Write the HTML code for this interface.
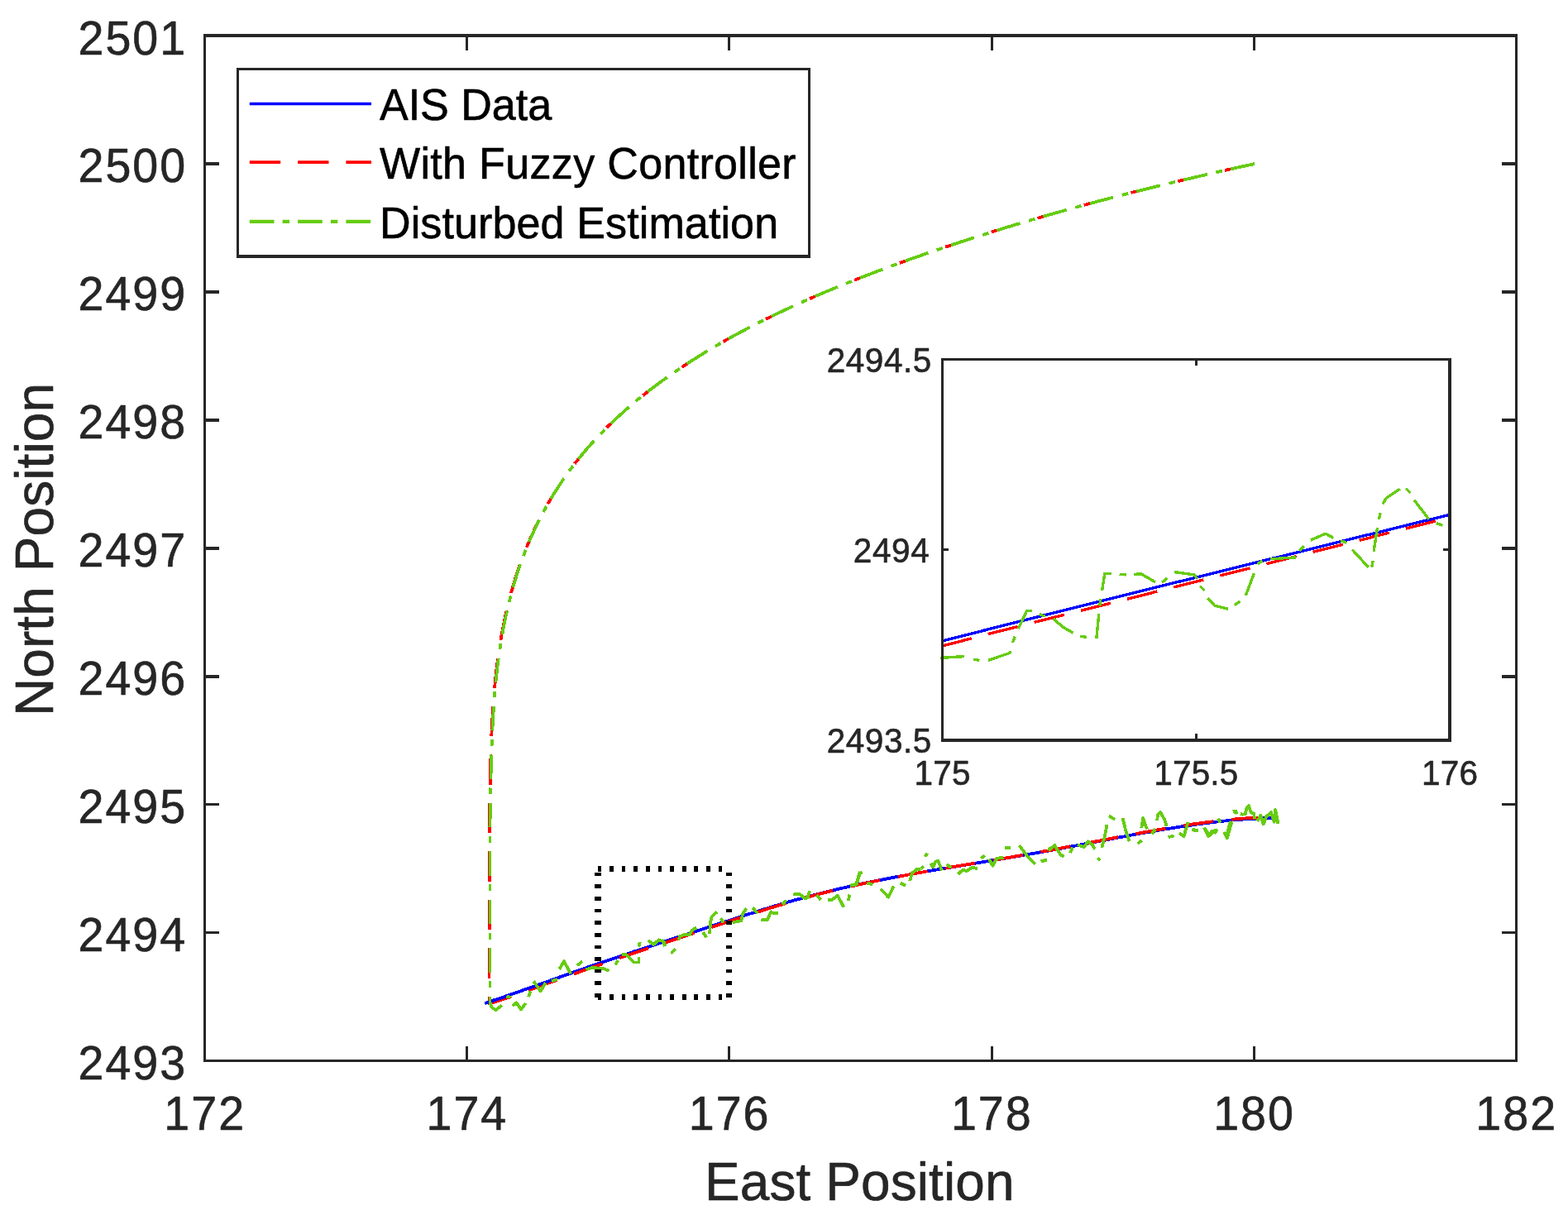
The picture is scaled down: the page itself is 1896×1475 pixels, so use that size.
<!DOCTYPE html>
<html lang="en">
<head>
<meta charset="utf-8">
<title>North Position vs East Position</title>
<style>
html,body{margin:0;padding:0;background:#fff;}
body{width:1896px;height:1475px;overflow:hidden;}
svg{display:block;}
svg text{font-family:"Liberation Sans",sans-serif;}
.c{fill:none;stroke-linejoin:round;stroke-linecap:butt;}
</style>
</head>
<body>
<svg width="1896" height="1475" viewBox="0 0 1896 1475">
<rect x="0" y="0" width="1896" height="1475" fill="#fff"/>
<g id="main-curves" shape-rendering="crispEdges">
<polyline class="c" stroke="#0000ff" stroke-width="3.8" points="586.3,1212.9 592.1,1211.0 598.0,1209.0 603.9,1207.1 609.8,1205.1 615.6,1203.1 621.5,1201.0 627.3,1199.0 633.2,1196.9 639.0,1194.9 644.9,1192.8 650.7,1190.7 656.5,1188.6 662.4,1186.6 668.2,1184.5 674.0,1182.4 679.9,1180.3 685.7,1178.2 691.5,1176.2 697.4,1174.1 703.2,1172.1 709.1,1170.0 714.9,1168.0 720.8,1165.9 726.6,1163.9 732.5,1161.9 738.4,1159.9 744.2,1158.0 750.1,1156.0 756.0,1154.0 761.9,1152.1 767.7,1150.1 773.6,1148.2 779.5,1146.3 785.4,1144.3 791.3,1142.4 797.2,1140.5 803.1,1138.5 808.9,1136.6 814.8,1134.7 820.7,1132.7 826.6,1130.8 832.5,1128.9 838.4,1127.0 844.3,1125.0 850.2,1123.1 856.1,1121.2 861.9,1119.3 867.8,1117.3 873.7,1115.4 879.6,1113.5 885.5,1111.6 891.4,1109.7 897.3,1107.8 903.2,1105.9 909.1,1104.0 915.0,1102.1 920.9,1100.3 926.9,1098.4 932.8,1096.6 938.7,1094.8 944.6,1093.1 950.6,1091.3 956.5,1089.6 962.5,1087.9 968.5,1086.3 974.4,1084.7 980.4,1083.1 986.4,1081.5 992.4,1080.0 998.4,1078.5 1004.5,1077.1 1010.5,1075.6 1016.5,1074.2 1022.6,1072.8 1028.6,1071.5 1034.7,1070.2 1040.7,1068.8 1046.8,1067.6 1052.8,1066.3 1058.9,1065.1 1065.0,1063.9 1071.0,1062.7 1077.1,1061.5 1083.2,1060.3 1089.3,1059.2 1095.4,1058.1 1101.5,1057.0 1107.6,1055.9 1113.7,1054.8 1119.8,1053.7 1125.9,1052.6 1132.0,1051.6 1138.1,1050.5 1144.2,1049.5 1150.3,1048.5 1156.4,1047.5 1162.6,1046.4 1168.7,1045.4 1174.8,1044.4 1180.9,1043.4 1187.0,1042.4 1193.1,1041.4 1199.2,1040.3 1205.4,1039.3 1211.5,1038.3 1217.6,1037.3 1223.7,1036.3 1229.8,1035.2 1235.9,1034.2 1242.0,1033.1 1248.1,1032.1 1254.2,1031.0 1260.3,1029.9 1266.4,1028.8 1272.5,1027.7 1278.6,1026.6 1284.7,1025.4 1290.8,1024.3 1296.9,1023.1 1303.0,1022.0 1309.1,1020.8 1315.2,1019.7 1321.2,1018.5 1327.3,1017.3 1333.4,1016.2 1339.5,1015.0 1345.6,1013.9 1351.7,1012.7 1357.8,1011.6 1363.9,1010.4 1369.9,1009.3 1376.0,1008.2 1382.1,1007.1 1388.2,1006.0 1394.3,1005.0 1400.4,1003.9 1406.5,1002.9 1412.7,1001.9 1418.8,1000.9 1424.9,999.9 1431.0,999.0 1437.1,998.1 1443.3,997.2 1449.4,996.3 1455.6,995.5 1461.7,994.7 1467.8,994.0 1474.0,993.3 1480.2,992.6 1486.3,992.0 1492.5,991.4 1498.7,990.9 1504.8,990.5 1511.0,990.1 1517.2,989.7 1523.4,989.4 1529.6,989.2 1535.8,989.0 1542.0,988.9"/>
<polyline class="c" stroke="#ff0000" stroke-width="3.8" stroke-dasharray="36.6 21.87" points="1516.9,198.1 1512.4,199.1 1507.9,200.1 1503.4,201.0 1499.0,202.0 1494.5,203.0 1490.0,204.0 1485.5,205.0 1481.0,206.0 1476.5,207.0 1472.1,208.0 1467.6,209.1 1463.1,210.1 1458.6,211.1 1454.1,212.1 1449.7,213.2 1445.2,214.2 1440.7,215.3 1436.2,216.3 1431.7,217.4 1427.3,218.4 1422.8,219.5 1418.3,220.6 1413.9,221.6 1409.4,222.7 1404.9,223.8 1400.5,224.9 1396.0,226.0 1391.5,227.1 1387.1,228.2 1382.6,229.3 1378.2,230.4 1373.7,231.5 1369.2,232.6 1364.8,233.8 1360.3,234.9 1355.9,236.1 1351.4,237.2 1347.0,238.4 1342.5,239.5 1338.1,240.7 1333.7,241.8 1329.2,243.0 1324.8,244.2 1320.3,245.4 1315.9,246.6 1311.5,247.8 1307.0,249.0 1302.6,250.2 1298.2,251.4 1293.7,252.6 1289.3,253.9 1284.9,255.1 1280.5,256.3 1276.0,257.6 1271.6,258.9 1267.2,260.1 1262.8,261.4 1258.4,262.7 1254.0,263.9 1249.6,265.2 1245.1,266.5 1240.7,267.8 1236.3,269.1 1231.9,270.4 1227.5,271.8 1223.1,273.1 1218.8,274.4 1214.4,275.8 1210.0,277.1 1205.6,278.5 1201.2,279.8 1196.8,281.2 1192.4,282.6 1188.1,284.0 1183.7,285.4 1179.3,286.8 1174.9,288.2 1170.6,289.6 1166.2,291.0 1161.8,292.4 1157.5,293.9 1153.1,295.3 1148.8,296.8 1144.4,298.2 1140.1,299.7 1135.7,301.2 1131.4,302.7 1127.0,304.2 1122.7,305.7 1118.3,307.2 1114.0,308.7 1109.7,310.2 1105.4,311.7 1101.0,313.3 1096.7,314.8 1092.4,316.4 1088.1,317.9 1083.8,319.5 1079.4,321.1 1075.1,322.7 1070.8,324.3 1066.5,325.9 1062.2,327.5 1057.9,329.1 1053.6,330.8 1049.3,332.4 1045.1,334.1 1040.8,335.7 1036.5,337.4 1032.2,339.1 1028.0,340.8 1023.7,342.5 1019.4,344.2 1015.2,345.9 1010.9,347.7 1006.7,349.4 1002.4,351.2 998.2,352.9 994.0,354.7 989.7,356.5 985.5,358.3 981.3,360.2 977.1,362.0 972.9,363.9 968.7,365.7 964.5,367.6 960.3,369.5 956.2,371.4 952.0,373.4 947.8,375.3 943.7,377.3 939.5,379.2 935.4,381.2 931.3,383.3 927.1,385.3 923.0,387.3 918.9,389.4 914.8,391.5 910.7,393.6 906.6,395.7 902.6,397.8 898.5,400.0 894.4,402.1 890.4,404.3 886.4,406.5 882.3,408.8 878.3,411.0 874.3,413.3 870.3,415.6 866.3,417.9 862.4,420.2 858.4,422.6 854.4,424.9 850.5,427.3 846.6,429.8 842.6,432.2 838.7,434.7 834.8,437.2 830.9,439.7 827.1,442.2 823.2,444.8 819.4,447.3 815.6,449.9 811.8,452.6 808.0,455.2 804.2,457.9 800.5,460.6 796.7,463.3 793.0,466.1 789.3,468.9 785.7,471.7 782.0,474.5 778.4,477.4 774.8,480.2 771.2,483.1 767.7,486.1 764.2,489.0 760.7,492.0 757.2,495.0 753.8,498.1 750.4,501.2 747.0,504.3 743.6,507.4 740.3,510.5 737.0,513.7 733.7,516.9 730.5,520.2 727.3,523.4 724.1,526.7 721.0,530.1 717.9,533.4 714.8,536.8 711.8,540.2 708.8,543.7 705.8,547.2 702.9,550.7 700.0,554.2 697.2,557.8 694.4,561.4 691.6,565.0 688.9,568.7 686.2,572.4 683.6,576.1 680.9,579.9 678.4,583.7 675.9,587.5 673.4,591.3 670.9,595.2 668.5,599.1 666.2,603.0 663.8,606.9 661.5,610.9 659.3,614.9 657.1,618.9 654.9,622.9 652.8,627.0 650.7,631.1 648.7,635.2 646.7,639.3 644.7,643.5 642.8,647.7 640.9,651.8 639.1,656.1 637.3,660.3 635.6,664.5 633.9,668.8 632.3,673.1 630.7,677.4 629.1,681.7 627.6,686.0 626.1,690.4 624.7,694.8 623.3,699.1 621.9,703.5 620.6,707.9 619.3,712.4 618.1,716.8 616.9,721.2 615.7,725.7 614.6,730.2 613.5,734.6 612.4,739.1 611.4,743.6 610.4,748.1 609.5,752.6 608.5,757.2 607.7,761.7 606.8,766.2 606.0,770.8 605.2,775.3 604.5,779.9 603.8,784.4 603.1,789.0 602.4,793.6 601.8,798.1 601.2,802.7 600.7,807.3 600.1,811.9 599.6,816.4 599.1,821.0 598.7,825.6 598.2,830.2 597.8,834.8 597.4,839.4 597.1,844.0 596.7,848.6 596.4,853.2 596.1,857.8 595.8,862.4 595.5,867.0 595.2,871.6 595.0,876.2 594.8,880.8 594.5,885.4 594.3,890.0 594.2,894.6 594.0,899.3 593.8,903.9 593.7,908.4 593.5,913.0 593.4,917.6 593.3,922.2 593.1,926.8 593.0,931.4 592.9,936.0 592.8,940.6 592.7,945.1 592.6,949.7 592.5,954.3 592.5,958.8 592.4,963.4 592.3,967.9 592.2,972.5 592.1,977.0 592.0,981.6 592.0,986.1 591.9,990.6 591.8,995.1 591.7,999.6 591.7,1060.0 591.5,1213.0 598.0,1211.5 603.9,1209.5 609.8,1207.5 615.6,1205.5 621.5,1203.4 627.3,1201.4 633.2,1199.3 639.0,1197.2 644.9,1195.1 650.7,1193.0 656.5,1190.9 662.4,1188.8 668.2,1186.7 674.0,1184.6 679.9,1182.6 685.7,1180.5 691.5,1178.4 697.4,1176.3 703.2,1174.2 709.1,1172.1 714.9,1170.1 720.8,1168.0 726.6,1166.0 732.5,1164.0 738.4,1161.9 744.2,1159.9 750.1,1157.9 756.0,1155.9 761.9,1153.9 767.7,1152.0 773.6,1150.0 779.5,1148.0 785.4,1146.0 791.3,1144.1 797.2,1142.1 803.1,1140.1 808.9,1138.2 814.8,1136.2 820.7,1134.2 826.6,1132.3 832.5,1130.3 838.4,1128.3 844.3,1126.4 850.2,1124.4 856.1,1122.4 861.9,1120.5 867.8,1118.5 873.7,1116.6 879.6,1114.6 885.5,1112.7 891.4,1110.7 897.3,1108.8 903.2,1106.8 909.1,1104.9 915.0,1103.0 920.9,1101.1 926.9,1099.3 932.8,1097.4 938.7,1095.6 944.6,1093.8 950.6,1092.0 956.5,1090.2 962.5,1088.5 968.5,1086.8 974.4,1085.2 980.4,1083.6 986.4,1082.0 992.4,1080.4 998.4,1078.9 1004.5,1077.4 1010.5,1075.9 1016.5,1074.5 1022.6,1073.1 1028.6,1071.7 1034.7,1070.3 1040.7,1069.0 1046.8,1067.7 1052.8,1066.5 1058.9,1065.2 1065.0,1064.0 1071.0,1062.8 1077.1,1061.6 1083.2,1060.4 1089.3,1059.3 1095.4,1058.1 1101.5,1057.0 1107.6,1055.9 1113.7,1054.8 1119.8,1053.7 1125.9,1052.6 1132.0,1051.6 1138.1,1050.5 1144.2,1049.5 1150.3,1048.4 1156.4,1047.4 1162.6,1046.4 1168.7,1045.3 1174.8,1044.3 1180.9,1043.3 1187.0,1042.2 1193.1,1041.2 1199.2,1040.2 1205.4,1039.2 1211.5,1038.1 1217.6,1037.1 1223.7,1036.1 1229.8,1035.0 1235.9,1033.9 1242.0,1032.9 1248.1,1031.8 1254.2,1030.7 1260.3,1029.6 1266.4,1028.5 1272.5,1027.4 1278.6,1026.2 1284.7,1025.1 1290.8,1023.9 1296.9,1022.8 1303.0,1021.6 1309.1,1020.4 1315.2,1019.2 1321.2,1018.0 1327.3,1016.9 1333.4,1015.7 1339.5,1014.5 1345.6,1013.3 1351.7,1012.2 1357.8,1011.0 1363.9,1009.8 1369.9,1008.7 1376.0,1007.6 1382.1,1006.5 1388.2,1005.4 1394.3,1004.3 1400.4,1003.2 1406.5,1002.2 1412.7,1001.1 1418.8,1000.1 1424.9,999.1 1431.0,998.2 1437.1,997.2 1443.3,996.3 1449.4,995.5 1455.6,994.6 1461.7,993.8 1467.8,993.1 1474.0,992.4 1480.2,991.7 1486.3,991.0 1492.5,990.5 1498.7,989.9 1504.8,989.5 1511.0,989.1 1517.2,988.7 1523.4,988.4"/>
<polyline class="c" stroke="#0000ff" stroke-width="3.8" points="586.3,1212.9 592.1,1211.0 598.0,1209.0 603.9,1207.1 609.8,1205.1 615.6,1203.1 621.5,1201.0 627.3,1199.0 633.2,1196.9 639.0,1194.9 644.9,1192.8 650.7,1190.7 656.5,1188.6 662.4,1186.6 668.2,1184.5 674.0,1182.4 679.9,1180.3 685.7,1178.2"/>
<polyline class="c" stroke="#66cc11" stroke-width="3.8" stroke-dasharray="29.4 10.6 7.6 10.87" points="1516.9,198.1 1512.4,199.1 1507.9,200.1 1503.4,201.0 1499.0,202.0 1494.5,203.0 1490.0,204.0 1485.5,205.0 1481.0,206.0 1476.5,207.0 1472.1,208.0 1467.6,209.1 1463.1,210.1 1458.6,211.1 1454.1,212.1 1449.7,213.2 1445.2,214.2 1440.7,215.3 1436.2,216.3 1431.7,217.4 1427.3,218.4 1422.8,219.5 1418.3,220.6 1413.9,221.6 1409.4,222.7 1404.9,223.8 1400.5,224.9 1396.0,226.0 1391.5,227.1 1387.1,228.2 1382.6,229.3 1378.2,230.4 1373.7,231.5 1369.2,232.6 1364.8,233.8 1360.3,234.9 1355.9,236.1 1351.4,237.2 1347.0,238.4 1342.5,239.5 1338.1,240.7 1333.7,241.8 1329.2,243.0 1324.8,244.2 1320.3,245.4 1315.9,246.6 1311.5,247.8 1307.0,249.0 1302.6,250.2 1298.2,251.4 1293.7,252.6 1289.3,253.9 1284.9,255.1 1280.5,256.3 1276.0,257.6 1271.6,258.9 1267.2,260.1 1262.8,261.4 1258.4,262.7 1254.0,263.9 1249.6,265.2 1245.1,266.5 1240.7,267.8 1236.3,269.1 1231.9,270.4 1227.5,271.8 1223.1,273.1 1218.8,274.4 1214.4,275.8 1210.0,277.1 1205.6,278.5 1201.2,279.8 1196.8,281.2 1192.4,282.6 1188.1,284.0 1183.7,285.4 1179.3,286.8 1174.9,288.2 1170.6,289.6 1166.2,291.0 1161.8,292.4 1157.5,293.9 1153.1,295.3 1148.8,296.8 1144.4,298.2 1140.1,299.7 1135.7,301.2 1131.4,302.7 1127.0,304.2 1122.7,305.7 1118.3,307.2 1114.0,308.7 1109.7,310.2 1105.4,311.7 1101.0,313.3 1096.7,314.8 1092.4,316.4 1088.1,317.9 1083.8,319.5 1079.4,321.1 1075.1,322.7 1070.8,324.3 1066.5,325.9 1062.2,327.5 1057.9,329.1 1053.6,330.8 1049.3,332.4 1045.1,334.1 1040.8,335.7 1036.5,337.4 1032.2,339.1 1028.0,340.8 1023.7,342.5 1019.4,344.2 1015.2,345.9 1010.9,347.7 1006.7,349.4 1002.4,351.2 998.2,352.9 994.0,354.7 989.7,356.5 985.5,358.3 981.3,360.2 977.1,362.0 972.9,363.9 968.7,365.7 964.5,367.6 960.3,369.5 956.2,371.4 952.0,373.4 947.8,375.3 943.7,377.3 939.5,379.2 935.4,381.2 931.3,383.3 927.1,385.3 923.0,387.3 918.9,389.4 914.8,391.5 910.7,393.6 906.6,395.7 902.6,397.8 898.5,400.0 894.4,402.1 890.4,404.3 886.4,406.5 882.3,408.8 878.3,411.0 874.3,413.3 870.3,415.6 866.3,417.9 862.4,420.2 858.4,422.6 854.4,424.9 850.5,427.3 846.6,429.8 842.6,432.2 838.7,434.7 834.8,437.2 830.9,439.7 827.1,442.2 823.2,444.8 819.4,447.3 815.6,449.9 811.8,452.6 808.0,455.2 804.2,457.9 800.5,460.6 796.7,463.3 793.0,466.1 789.3,468.9 785.7,471.7 782.0,474.5 778.4,477.4 774.8,480.2 771.2,483.1 767.7,486.1 764.2,489.0 760.7,492.0 757.2,495.0 753.8,498.1 750.4,501.2 747.0,504.3 743.6,507.4 740.3,510.5 737.0,513.7 733.7,516.9 730.5,520.2 727.3,523.4 724.1,526.7 721.0,530.1 717.9,533.4 714.8,536.8 711.8,540.2 708.8,543.7 705.8,547.2 702.9,550.7 700.0,554.2 697.2,557.8 694.4,561.4 691.6,565.0 688.9,568.7 686.2,572.4 683.6,576.1 680.9,579.9 678.4,583.7 675.9,587.5 673.4,591.3 670.9,595.2 668.5,599.1 666.2,603.0 663.8,606.9 661.6,610.9 659.3,614.9 657.1,618.9 655.0,622.9 652.9,627.0 650.8,631.1 648.8,635.2 646.8,639.3 644.9,643.5 643.0,647.7 641.1,651.8 639.3,656.1 637.6,660.3 635.9,664.5 634.2,668.8 632.6,673.1 631.0,677.4 629.4,681.7 627.9,686.0 626.5,690.4 625.0,694.8 623.7,699.1 622.3,703.5 621.0,707.9 619.7,712.4 618.5,716.8 617.3,721.2 616.2,725.7 615.1,730.2 614.0,734.6 613.0,739.1 612.0,743.6 611.0,748.1 610.1,752.6 609.2,757.2 608.3,761.7 607.5,766.2 606.7,770.8 605.9,775.3 605.2,779.9 604.5,784.4 603.8,789.0 603.1,793.6 602.5,798.1 601.9,802.7 601.4,807.3 600.8,811.9 600.3,816.4 599.8,821.0 599.4,825.6 598.9,830.2 598.5,834.8 598.1,839.4 597.8,844.0 597.4,848.6 597.1,853.2 596.8,857.8 596.5,862.4 596.2,867.0 595.9,871.6 595.7,876.2 595.5,880.8 595.2,885.4 595.0,890.0 594.9,894.6 594.7,899.3 594.5,903.9 594.4,908.4 594.2,913.0 594.1,917.6 594.0,922.2 593.8,926.8 593.7,931.4 593.6,936.0 593.5,940.6 593.4,945.1 593.3,949.7 593.2,954.3 593.2,958.8 593.1,963.4 593.0,967.9 592.9,972.5 592.8,977.0 592.7,981.6 592.7,986.1 592.6,990.6 592.5,995.1 592.4,999.6 592.4,1060.0 592.4,1204.0"/>
<path class="c" stroke="#66cc11" stroke-width="3.8" d="M592.4,1204.7L592.4,1211.6L594.7,1218.0L599.7,1221.1L606.7,1215.4M612.4,1204.7L617.5,1205.9M620.0,1216.1L624.4,1212.3L630.1,1220.5L635.8,1212.9M639.0,1205.3L641.5,1198.4M645.3,1186.3L653.5,1198.4L659.9,1188.2M666.8,1186.3L673.8,1183.8M676.3,1171.8L682.0,1162.3L690.3,1177.5M697.8,1167.3L704.2,1162.3M708.6,1172.4L715.6,1169.9L729.5,1171.1L736.5,1173.7M744.1,1166.7L747.2,1161.0M751.6,1154.7L756.1,1153.4L766.2,1163.5L772.5,1163.5L772.5,1156.6M772.5,1144.6L773.8,1138.9M783.9,1137.0L790.3,1142.0L796.6,1136.3L801.6,1138.2L804.2,1143.9M800.0,1136.6L803.2,1139.1L804.4,1144.2M811.4,1152.4L817.1,1147.3M820.3,1136.6L822.2,1132.2L826.6,1130.3L833.5,1130.3L836.7,1124.6L842.4,1121.4M850.0,1127.1L854.4,1133.4M858.2,1129.0L858.9,1115.1L860.8,1108.1L867.1,1102.4M871.5,1110.0L874.7,1115.7M886.1,1115.1L896.2,1113.2L898.1,1104.9L902.5,1098.0M910.1,1097.3L915.8,1104.3M920.3,1112.5L927.8,1111.9L932.3,1102.4L935.4,1104.3L941.1,1104.3M946.2,1093.5L950.6,1088.5M958.9,1081.5L967.1,1080.9L973.4,1086.6L976.6,1085.3L979.1,1077.1M987.3,1082.2L992.4,1087.8M1000.6,1087.8L1006.3,1087.8L1012.7,1082.8L1020.3,1096.7M1025.9,1089.1L1027.2,1081.5M1027.8,1070.8L1035.4,1068.9L1039.9,1053.7M1030.0,1070.1L1035.7,1069.5L1039.5,1056.2L1042.7,1054.3M1048.4,1067.6L1055.3,1069.5M1064.8,1074.6L1074.3,1084.7L1080.6,1071.4M1088.9,1067.6L1095.2,1070.8M1100.3,1065.1L1102.8,1055.6L1108.5,1051.1L1113.5,1050.5L1116.7,1047.3M1118.6,1035.9L1121.1,1031.5M1125.6,1043.5L1128.1,1048.6L1131.3,1041.6L1134.4,1041.0L1138.9,1052.4M1144.6,1044.8L1150.3,1049.2M1158.5,1056.8L1164.2,1051.8L1169.2,1053.0L1175.6,1048.6L1181.9,1050.5M1186.3,1037.8L1190.8,1034.1M1195.8,1038.5L1200.3,1046.7L1205.3,1037.8L1213.5,1036.6M1215.4,1024.6L1222.4,1024.6M1232.5,1022.0L1242.7,1035.9L1251.5,1044.8M1258.5,1041.0L1266.1,1039.7M1268.0,1028.4L1269.9,1024.6M1260.0,1041.4L1265.7,1039.5M1268.9,1027.5L1275.2,1021.8L1282.2,1033.2L1286.6,1035.7M1294.2,1031.3L1296.7,1024.3M1303.0,1021.1L1310.6,1024.3L1315.7,1017.3L1320.8,1021.1L1323.9,1026.8M1327.1,1037.0L1330.3,1040.1M1332.2,1024.9L1335.9,1011.0L1338.5,997.1M1341.0,986.3L1348.0,990.8M1357.5,988.9L1361.3,1004.7L1365.7,1017.3M1375.8,1019.9L1380.9,1016.1M1380.3,1000.9L1382.2,988.9L1385.3,998.4L1387.2,1002.2M1392.9,1008.5L1396.7,1002.2M1399.2,992.0L1399.9,985.7L1403.0,981.9L1408.1,990.8L1410.6,999.0M1412.5,1012.3L1419.5,1010.4M1425.8,1007.2L1431.5,1011.0L1434.1,1002.2L1436.6,993.9M1441.6,1002.2L1448.6,1004.7M1456.2,1000.9L1462.5,1010.4L1467.6,1004.7L1472.7,1003.4M1473.9,990.1L1475.2,994.6M1480.3,1005.9L1484.1,1012.3L1486.6,1003.4L1489.7,993.3M1491.6,980.6L1495.4,983.2M1441.7,1002.4L1445.1,1004.6L1449.3,1004.1M1456.0,1000.3L1461.1,1010.9L1465.3,1005.0L1469.5,1006.7L1471.6,1002.9M1472.9,989.8L1475.4,994.9M1480.1,1005.8L1483.5,1013.0L1486.0,999.1L1488.5,992.7M1490.6,980.9L1494.0,980.5L1495.7,984.3M1499.9,983.9L1502.4,984.7L1505.8,984.3L1507.5,976.3L1510.0,974.2L1512.6,982.2L1516.4,983.9L1516.8,989.8M1520.2,992.7L1524.4,986.0L1527.8,996.5L1531.1,987.3L1537.0,982.2L1540.8,993.6L1542.1,978.8L1545.5,996.1"/>
</g>
<path id="zoom-box" fill="#000" shape-rendering="crispEdges" d="M723,1047h4v7h-4zM723,1202h4v7h-4zM737,1047h5v7h-5zM737,1202h5v7h-5zM752,1047h4v7h-4zM752,1202h4v7h-4zM766,1047h5v7h-5zM766,1202h5v7h-5zM781,1047h5v7h-5zM781,1202h5v7h-5zM796,1047h4v7h-4zM796,1202h4v7h-4zM810,1047h5v7h-5zM810,1202h5v7h-5zM825,1047h5v7h-5zM825,1202h5v7h-5zM839,1047h5v7h-5zM839,1202h5v7h-5zM854,1047h5v7h-5zM854,1202h5v7h-5zM869,1047h4v7h-4zM869,1202h4v7h-4zM719,1055h8v4h-8zM878,1055h7v4h-7zM719,1069h8v5h-8zM878,1069h7v5h-7zM719,1084h8v5h-8zM878,1084h7v5h-7zM719,1099h8v4h-8zM878,1099h7v4h-7zM719,1113h8v5h-8zM878,1113h7v5h-7zM719,1128h8v5h-8zM878,1128h7v5h-7zM719,1143h8v4h-8zM878,1143h7v4h-7zM719,1157h8v5h-8zM878,1157h7v5h-7zM719,1172h8v4h-8zM878,1172h7v4h-7zM719,1186h8v5h-8zM878,1186h7v5h-7zM719,1201h8v5h-8zM878,1201h7v5h-7z"/>
<g id="main-axes">
<rect x="246" y="41" width="1589" height="4" fill="#262626"/>
<rect x="246" y="1281" width="1589" height="3" fill="#262626"/>
<rect x="246" y="41" width="3" height="1243" fill="#262626"/>
<rect x="1832" y="41" width="3" height="1243" fill="#262626"/>
<rect x="563" y="1265" width="3" height="16" fill="#262626"/>
<rect x="563" y="45" width="3" height="16" fill="#262626"/>
<rect x="880" y="1265" width="3" height="16" fill="#262626"/>
<rect x="880" y="45" width="3" height="16" fill="#262626"/>
<rect x="1198" y="1265" width="3" height="16" fill="#262626"/>
<rect x="1198" y="45" width="3" height="16" fill="#262626"/>
<rect x="1515" y="1265" width="3" height="16" fill="#262626"/>
<rect x="1515" y="45" width="3" height="16" fill="#262626"/>
<rect x="249" y="1126" width="16" height="3" fill="#262626"/>
<rect x="1816" y="1126" width="16" height="3" fill="#262626"/>
<rect x="249" y="971" width="16" height="3" fill="#262626"/>
<rect x="1816" y="971" width="16" height="3" fill="#262626"/>
<rect x="249" y="816" width="16" height="4" fill="#262626"/>
<rect x="1816" y="816" width="16" height="4" fill="#262626"/>
<rect x="249" y="661" width="16" height="4" fill="#262626"/>
<rect x="1816" y="661" width="16" height="4" fill="#262626"/>
<rect x="249" y="506" width="16" height="4" fill="#262626"/>
<rect x="1816" y="506" width="16" height="4" fill="#262626"/>
<rect x="249" y="351" width="16" height="4" fill="#262626"/>
<rect x="1816" y="351" width="16" height="4" fill="#262626"/>
<rect x="249" y="196" width="16" height="4" fill="#262626"/>
<rect x="1816" y="196" width="16" height="4" fill="#262626"/>
</g>
<text transform="translate(198.33,1365.90) scale(1,1.03)" font-size="55.6" letter-spacing="2" fill="#262626" stroke="#262626" stroke-width="0.6" stroke-linejoin="round">172</text>
<text transform="translate(515.53,1365.90) scale(1,1.03)" font-size="55.6" letter-spacing="2" fill="#262626" stroke="#262626" stroke-width="0.6" stroke-linejoin="round">174</text>
<text transform="translate(832.73,1365.90) scale(1,1.03)" font-size="55.6" letter-spacing="2" fill="#262626" stroke="#262626" stroke-width="0.6" stroke-linejoin="round">176</text>
<text transform="translate(1149.93,1365.90) scale(1,1.03)" font-size="55.6" letter-spacing="2" fill="#262626" stroke="#262626" stroke-width="0.6" stroke-linejoin="round">178</text>
<text transform="translate(1467.13,1365.90) scale(1,1.03)" font-size="55.6" letter-spacing="2" fill="#262626" stroke="#262626" stroke-width="0.6" stroke-linejoin="round">180</text>
<text transform="translate(1784.33,1365.90) scale(1,1.03)" font-size="55.6" letter-spacing="2" fill="#262626" stroke="#262626" stroke-width="0.6" stroke-linejoin="round">182</text>
<text transform="translate(94.50,1305.00) scale(1,1.03)" font-size="55.6" letter-spacing="2" fill="#262626" stroke="#262626" stroke-width="0.6" stroke-linejoin="round">2493</text>
<text transform="translate(94.50,1150.06) scale(1,1.03)" font-size="55.6" letter-spacing="2" fill="#262626" stroke="#262626" stroke-width="0.6" stroke-linejoin="round">2494</text>
<text transform="translate(94.50,995.12) scale(1,1.03)" font-size="55.6" letter-spacing="2" fill="#262626" stroke="#262626" stroke-width="0.6" stroke-linejoin="round">2495</text>
<text transform="translate(94.50,840.19) scale(1,1.03)" font-size="55.6" letter-spacing="2" fill="#262626" stroke="#262626" stroke-width="0.6" stroke-linejoin="round">2496</text>
<text transform="translate(94.50,685.25) scale(1,1.03)" font-size="55.6" letter-spacing="2" fill="#262626" stroke="#262626" stroke-width="0.6" stroke-linejoin="round">2497</text>
<text transform="translate(94.50,530.31) scale(1,1.03)" font-size="55.6" letter-spacing="2" fill="#262626" stroke="#262626" stroke-width="0.6" stroke-linejoin="round">2498</text>
<text transform="translate(94.50,375.38) scale(1,1.03)" font-size="55.6" letter-spacing="2" fill="#262626" stroke="#262626" stroke-width="0.6" stroke-linejoin="round">2499</text>
<text transform="translate(94.50,220.44) scale(1,1.03)" font-size="55.6" letter-spacing="2" fill="#262626" stroke="#262626" stroke-width="0.6" stroke-linejoin="round">2500</text>
<text transform="translate(94.50,65.50) scale(1,1.03)" font-size="55.6" letter-spacing="2" fill="#262626" stroke="#262626" stroke-width="0.6" stroke-linejoin="round">2501</text>
<text transform="translate(852.00,1451.00) scale(1,1.026)" font-size="63.85" letter-spacing="0.16" fill="#262626" stroke="#262626" stroke-width="0.6" stroke-linejoin="round">East Position</text>
<text transform="translate(63.80,866.00) rotate(-90) scale(1,1.026)" font-size="63.85" letter-spacing="0.16" fill="#262626" stroke="#262626" stroke-width="0.6" stroke-linejoin="round">North Position</text>
<g id="legend">
<rect x="286" y="82" width="694" height="230" fill="#262626"/>
<rect x="289" y="85" width="688" height="223" fill="#fff"/>
<line x1="301.8" y1="125.5" x2="449" y2="125.5" stroke="#0000ff" stroke-width="3.4"/>
<line x1="301.8" y1="196.1" x2="449" y2="196.1" stroke="#ff0000" stroke-width="3.6" stroke-dasharray="37.4 20.9"/>
<line x1="301.8" y1="267.9" x2="449" y2="267.9" stroke="#66cc11" stroke-width="4.2" stroke-dasharray="29.7 10.1 8.4 10.1"/>
<text transform="translate(459.00,145.10) scale(1,1.025)" font-size="52.1" letter-spacing="-0.05" fill="#000" stroke="#000" stroke-width="0.6" stroke-linejoin="round">AIS Data</text>
<text transform="translate(459.00,215.70) scale(1,1.025)" font-size="52.1" letter-spacing="0.29" fill="#000" stroke="#000" stroke-width="0.6" stroke-linejoin="round">With Fuzzy Controller</text>
<text transform="translate(459.00,288.00) scale(1,1.025)" font-size="52.1" letter-spacing="0.08" fill="#000" stroke="#000" stroke-width="0.6" stroke-linejoin="round">Disturbed Estimation</text>
</g>
<g id="inset">
<rect x="1138" y="433" width="617" height="464" fill="#fff"/>
<g id="inset-curves" shape-rendering="crispEdges">
<polyline class="c" stroke="#0000ff" stroke-width="3.4" points="1139.5,775.0 1155.2,771.0 1170.9,767.0 1186.6,763.0 1202.4,759.0 1218.1,755.1 1233.8,751.1 1249.5,747.2 1265.2,743.2 1281.0,739.3 1296.7,735.3 1312.4,731.4 1328.1,727.5 1343.9,723.6 1359.6,719.6 1375.3,715.7 1391.1,711.8 1406.8,707.9 1422.5,704.0 1438.3,700.1 1454.0,696.2 1469.7,692.3 1485.5,688.4 1501.2,684.5 1516.9,680.6 1532.7,676.7 1548.4,672.8 1564.1,668.9 1579.9,665.0 1595.6,661.1 1611.4,657.2 1627.1,653.3 1642.8,649.4 1658.6,645.5 1674.3,641.6 1690.0,637.7 1705.8,633.8 1721.5,630.0 1737.3,626.1 1753.0,622.2"/>
<polyline class="c" stroke="#ff0000" stroke-width="3.4" stroke-dasharray="37.3 20.6" stroke-dashoffset="1" points="1139.5,780.9 1154.8,777.0 1170.0,773.1 1185.3,769.1 1200.6,765.2 1215.9,761.3 1231.2,757.4 1246.4,753.5 1261.7,749.7 1277.0,745.8 1292.3,741.9 1307.6,738.1 1322.9,734.2 1338.2,730.4 1353.5,726.5 1368.8,722.7 1384.1,718.9 1399.4,715.0 1414.7,711.2 1429.9,707.3 1445.2,703.5 1460.5,699.7 1475.8,695.8 1491.1,691.9 1506.4,688.1 1521.7,684.2 1537.0,680.3 1552.3,676.4 1567.5,672.5 1582.8,668.7 1598.1,664.8 1613.4,660.9 1628.7,657.0 1644.0,653.2 1659.3,649.3 1674.5,645.4 1689.8,641.6 1705.1,637.7 1720.4,633.9 1735.7,630.0"/>
<path class="c" stroke="#66cc11" stroke-width="3.4" d="M1136.8,795.4L1166.3,793.6M1177.3,797.0L1184.3,798.5M1195.0,798.3L1220.3,789.7L1222.2,787.2M1224.5,777.0L1227.2,769.6M1231.3,760.2L1241.7,738.2L1247.6,738.4M1256.6,742.6L1263.7,745.1M1273.5,748.0L1285.3,758.1L1297.4,765.1M1306.4,769.1L1314.3,770.5M1325.8,772.0L1328.8,742.1M1329.8,732.5L1330.8,724.4M1332.5,714.3L1335.9,693.3L1343.7,693.2M1353.6,694.3L1361.6,694.9M1371.4,694.3L1380.1,694.0L1397.0,703.8M1405.1,704.1L1411.5,699.1M1420.0,691.6L1443.9,694.9L1447.6,699.4M1451.0,708.5L1456.4,713.9M1460.3,722.9L1468.7,732.2L1485.1,736.4M1492.8,731.6L1499.4,726.8M1506.3,720.0L1516.3,693.3M1520.7,682.0L1526.4,677.8M1536.2,675.8L1566.9,673.9M1571.3,666.0L1577.0,660.1M1584.8,653.0L1602.9,645.2L1612.5,650.5M1621.4,653.7L1628.5,656.4M1634.9,664.3L1654.7,685.9M1658.7,685.7L1660.1,678.1M1661.1,666.7L1665.5,638.1M1667.2,628.0L1669.2,620.4M1671.9,609.3L1676.3,602.2L1692.7,591.1M1699.9,590.4L1705.3,595.8M1710.0,604.7L1727.9,627.8M1736.7,632.6L1744.3,635.3"/>
</g>
<rect x="1138" y="433" width="617" height="3" fill="#262626"/>
<rect x="1138" y="893" width="617" height="4" fill="#262626"/>
<rect x="1138" y="433" width="3" height="464" fill="#262626"/>
<rect x="1751" y="433" width="4" height="464" fill="#262626"/>
<rect x="1445" y="887" width="3" height="6" fill="#262626"/>
<rect x="1445" y="436" width="3" height="6" fill="#262626"/>
<rect x="1141" y="663" width="6" height="3" fill="#262626"/>
<rect x="1745" y="663" width="6" height="3" fill="#262626"/>
<text transform="translate(1105.52,948.70) scale(1,1.03)" font-size="40.5" letter-spacing="0.2" fill="#262626" stroke="#262626" stroke-width="0.6" stroke-linejoin="round">175</text>
<text transform="translate(1395.18,948.70) scale(1,1.03)" font-size="40.5" letter-spacing="0.2" fill="#262626" stroke="#262626" stroke-width="0.6" stroke-linejoin="round">175.5</text>
<text transform="translate(1719.02,948.70) scale(1,1.03)" font-size="40.5" letter-spacing="0.2" fill="#262626" stroke="#262626" stroke-width="0.6" stroke-linejoin="round">176</text>
<text transform="translate(999.63,449.80) scale(1,1.03)" font-size="40.5" letter-spacing="0.57" fill="#262626" stroke="#262626" stroke-width="0.6" stroke-linejoin="round">2494.5</text>
<text transform="translate(1031.85,680.05) scale(1,1.03)" font-size="40.5" letter-spacing="0.57" fill="#262626" stroke="#262626" stroke-width="0.6" stroke-linejoin="round">2494</text>
<text transform="translate(999.63,910.30) scale(1,1.03)" font-size="40.5" letter-spacing="0.57" fill="#262626" stroke="#262626" stroke-width="0.6" stroke-linejoin="round">2493.5</text>
</g>
</svg>
</body>
</html>
